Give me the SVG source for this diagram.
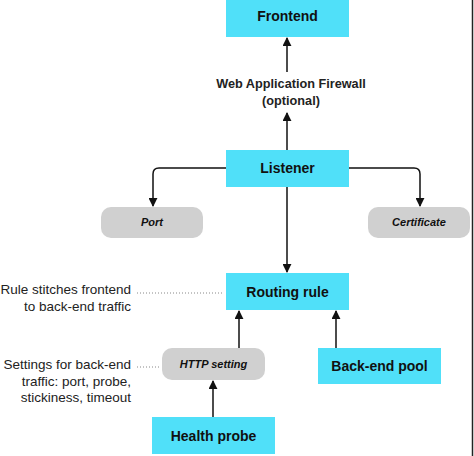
<svg xmlns="http://www.w3.org/2000/svg" width="474" height="456" viewBox="0 0 474 456">
<defs>
<marker id="ah" viewBox="0 0 10 10" refX="9" refY="5" markerWidth="9" markerHeight="9" markerUnits="userSpaceOnUse" orient="auto">
<path d="M0,0 L10,5 L0,10 z" fill="#111"/>
</marker>
<style>
.box{fill:#50E0F9;}
.pill{fill:#D0D0D0;}
.bt{font-family:"Liberation Sans",Arial,sans-serif;font-weight:bold;font-size:14px;fill:#111;text-anchor:middle;}
.it{font-family:"Liberation Sans",Arial,sans-serif;font-weight:bold;font-style:italic;font-size:11px;fill:#111;text-anchor:middle;}
.lab{font-family:"Liberation Sans",Arial,sans-serif;font-size:13.5px;fill:#222;text-anchor:end;}
.waf{font-family:"Liberation Sans",Arial,sans-serif;font-weight:bold;font-size:12.7px;fill:#222;text-anchor:middle;}
.c{fill:none;stroke:#111;stroke-width:1.5;}
.dot{fill:none;stroke:#888;stroke-width:1;stroke-dasharray:1 2;}
</style>
</defs>
<rect width="474" height="456" fill="#fff"/>
<line x1="472.5" y1="0" x2="472.5" y2="456" stroke="#222" stroke-width="1.5"/>
<g id="connectors">
<line class="c" x1="287" y1="72" x2="287" y2="38" marker-end="url(#ah)"/>
<line class="c" x1="287" y1="150" x2="287" y2="113" marker-end="url(#ah)"/>
<path class="c" d="M226,168 H159 Q153,168 153,174 V206" marker-end="url(#ah)"/>
<path class="c" d="M349,168 H414 Q420,168 420,174 V206" marker-end="url(#ah)"/>
<line class="c" x1="287" y1="187" x2="287" y2="272" marker-end="url(#ah)"/>
<line class="c" x1="239" y1="348" x2="239" y2="311" marker-end="url(#ah)"/>
<line class="c" x1="336" y1="348" x2="336" y2="311" marker-end="url(#ah)"/>
<line class="c" x1="213" y1="417" x2="213" y2="381" marker-end="url(#ah)"/>
<line class="dot" x1="137" y1="293" x2="223" y2="293"/>
<line class="dot" x1="137" y1="367" x2="160" y2="367"/>
</g>
<g id="frontend"><rect class="box" x="226" y="0" width="123" height="37"/><text class="bt" x="287.5" y="21">Frontend</text></g>
<g id="waf"><text class="waf" x="291" y="88">Web Application Firewall</text><text class="waf" x="291" y="105">(optional)</text></g>
<g id="listener"><rect class="box" x="226" y="150" width="123" height="37"/><text class="bt" x="287.5" y="173">Listener</text></g>
<g id="port"><rect class="pill" x="101" y="207" width="102" height="31" rx="10"/><text class="it" x="152" y="226">Port</text></g>
<g id="certificate"><rect class="pill" x="368" y="207" width="102" height="31" rx="10"/><text class="it" x="419" y="226">Certificate</text></g>
<g id="routing"><rect class="box" x="226" y="273" width="123" height="37"/><text class="bt" x="287.5" y="297">Routing rule</text></g>
<g id="rulelabel"><text class="lab" x="131" y="294">Rule stitches frontend</text><text class="lab" x="131" y="311">to back-end traffic</text></g>
<g id="http"><rect class="pill" x="162" y="348" width="103" height="32" rx="10"/><text class="it" x="213.5" y="368">HTTP setting</text></g>
<g id="settingslabel"><text class="lab" x="131" y="369">Settings for back-end</text><text class="lab" x="131" y="385.5">traffic: port, probe,</text><text class="lab" x="131" y="402">stickiness, timeout</text></g>
<g id="pool"><rect class="box" x="318" y="348" width="123" height="36"/><text class="bt" x="379.5" y="371">Back-end pool</text></g>
<g id="health"><rect class="box" x="152" y="417" width="123" height="37"/><text class="bt" x="213.5" y="441">Health probe</text></g>
</svg>
